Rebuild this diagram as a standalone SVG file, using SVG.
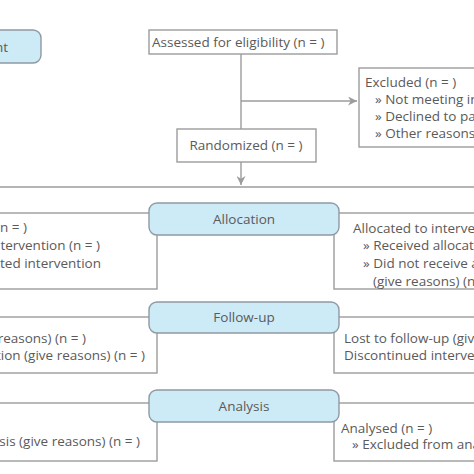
<svg xmlns="http://www.w3.org/2000/svg" width="474" height="474" viewBox="0 0 474 474">
<style>
.box{fill:#fff;stroke:#9c9c9c;stroke-width:1.4}
.stage{fill:#cdeaf7;stroke:#8e9aa4;stroke-width:1.4}
.t{font-family:"Open Sans",Lato,"DejaVu Sans",sans-serif;font-size:13.5px;fill:#5a5a5a}
.c{text-anchor:middle}
.e{text-anchor:end}
.ln{stroke:#9c9c9c;stroke-width:1.4;fill:none}
</style>
<defs>
<marker id="ah" viewBox="0 0 10 10" refX="10" refY="5" markerWidth="9" markerHeight="9" markerUnits="userSpaceOnUse" orient="auto">
<path d="M0,0 L10,5 L0,10 L3,5 z" fill="#9c9c9c"/>
</marker>
</defs>
<g id="connectors">
<line class="ln" x1="241" y1="54" x2="241" y2="129"/>
<line class="ln" x1="241" y1="101" x2="357" y2="101" marker-end="url(#ah)"/>
<line class="ln" x1="241" y1="162" x2="241" y2="185" marker-end="url(#ah)"/>
<line class="ln" x1="0" y1="187" x2="474" y2="187"/>
</g>
<g id="enrollment">
<rect class="stage" x="-150" y="30" width="191" height="33" rx="8"/>
<text class="t e" x="8" y="52">Enrollment</text>
</g>
<g id="assessed">
<rect class="box" x="149" y="30" width="188" height="24"/>
<text class="t" x="152" y="47">Assessed for eligibility (n = )</text>
</g>
<g id="excluded">
<rect class="box" x="359" y="68" width="130" height="79"/>
<text class="t" x="365" y="87">Excluded (n = )</text>
<text class="t" x="375" y="104">» Not meeting inclusion criteria (n = )</text>
<text class="t" x="375" y="121">» Declined to participate (n = )</text>
<text class="t" x="375" y="138">» Other reasons (n = )</text>
</g>
<g id="randomized">
<rect class="box" x="177" y="129" width="139" height="33"/>
<text class="t c" x="246" y="150">Randomized (n = )</text>
</g>
<g id="alloc-left">
<rect class="box" x="-10" y="213" width="167" height="76"/>
<text class="t e" x="27" y="232">Allocated to intervention (n = )</text>
<text class="t e" x="100" y="250">» Received allocated intervention (n = )</text>
<text class="t e" x="101" y="268">» Did not receive allocated intervention</text>
</g>
<g id="alloc-right">
<rect class="box" x="334" y="213" width="150" height="76"/>
<text class="t" x="353" y="233">Allocated to intervention (n = )</text>
<text class="t" x="363" y="250">» Received allocated intervention (n = )</text>
<text class="t" x="363" y="268">» Did not receive allocated intervention</text>
<text class="t" x="373" y="286">(give reasons) (n = )</text>
</g>
<g id="allocation">
<rect class="stage" x="149" y="203" width="190" height="32" rx="8"/>
<text class="t c" x="244" y="224">Allocation</text>
</g>
<g id="follow-left">
<rect class="box" x="-10" y="317" width="167" height="56"/>
<text class="t e" x="86" y="343">Lost to follow-up (give reasons) (n = )</text>
<text class="t e" x="145" y="360">Discontinued intervention (give reasons) (n = )</text>
</g>
<g id="follow-right">
<rect class="box" x="334" y="317" width="150" height="56"/>
<text class="t" x="344" y="343">Lost to follow-up (give reasons) (n = )</text>
<text class="t" x="344" y="360">Discontinued intervention (give reasons) (n = )</text>
</g>
<g id="followup">
<rect class="stage" x="149" y="302" width="190" height="31" rx="8"/>
<text class="t c" x="244" y="322">Follow-up</text>
</g>
<g id="analysis-left">
<rect class="box" x="-10" y="403" width="167" height="58"/>
<text class="t e" x="140" y="446">» Excluded from analysis (give reasons) (n = )</text>
</g>
<g id="analysis-right">
<rect class="box" x="334" y="403" width="150" height="58"/>
<text class="t" x="341" y="433">Analysed (n = )</text>
<text class="t" x="352" y="449">» Excluded from analysis (give reasons) (n = )</text>
</g>
<g id="analysis">
<rect class="stage" x="149" y="390" width="190" height="32" rx="8"/>
<text class="t c" x="244" y="411">Analysis</text>
</g>
</svg>
